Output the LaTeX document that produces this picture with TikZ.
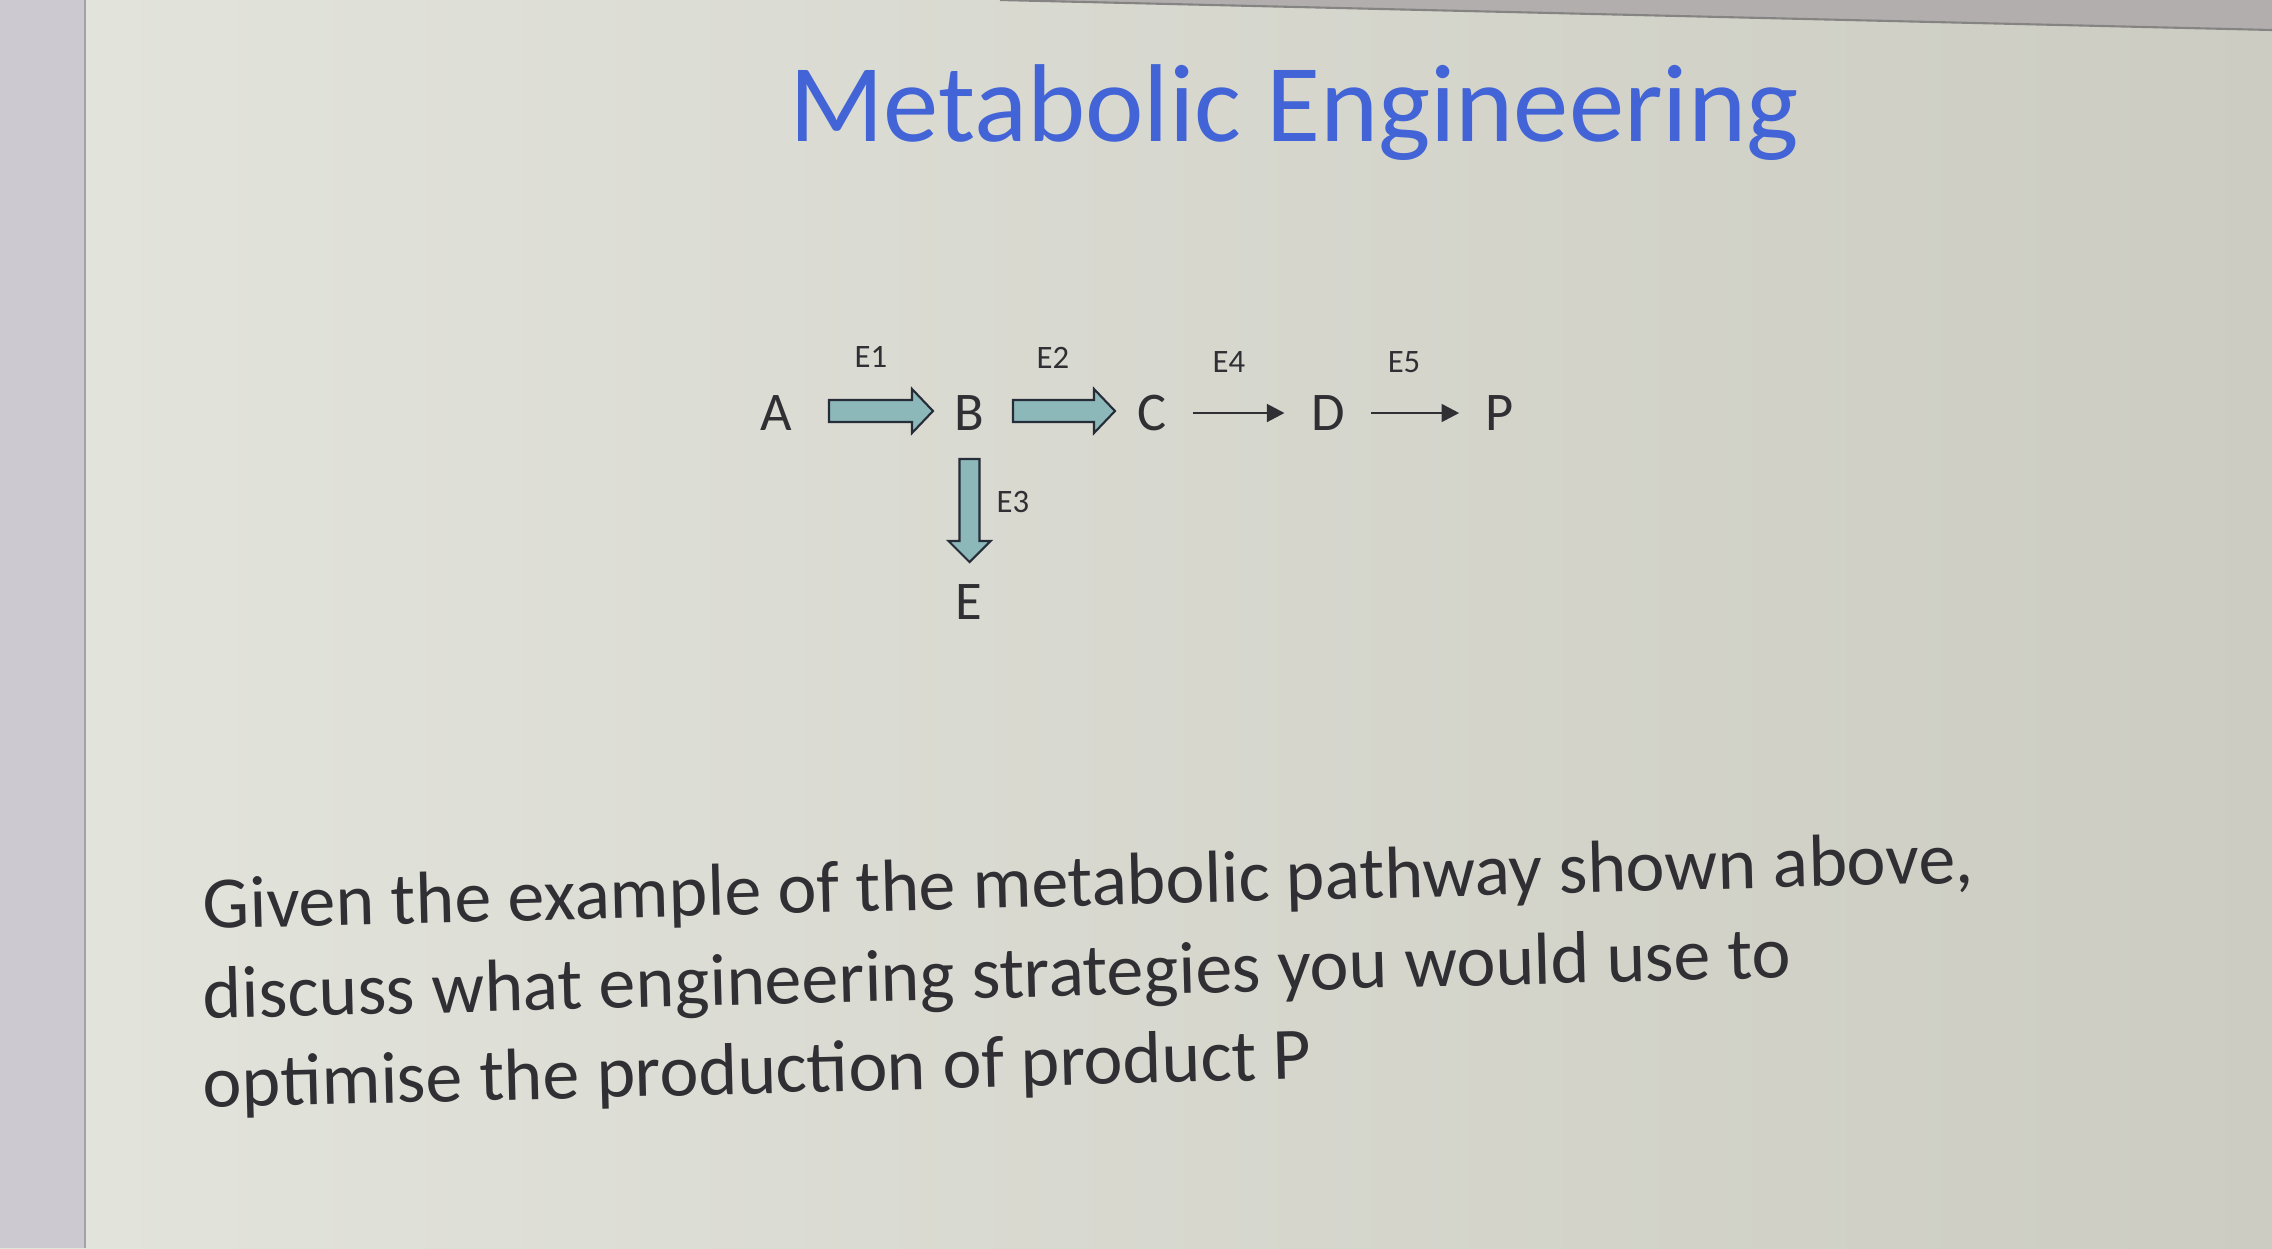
\documentclass[tikz,border=0pt]{standalone}
\usepackage{fontspec}
\setmainfont{Carlito}
\usetikzlibrary{calc,arrows.meta}
\definecolor{bgL}{RGB}{227,228,220}
\definecolor{bgR}{RGB}{204,204,194}
\definecolor{stripc}{RGB}{204,202,208}
\definecolor{bandc}{RGB}{178,174,174}
\definecolor{titleblue}{RGB}{66,100,214}
\definecolor{ink}{RGB}{48,48,52}
\definecolor{fatfill}{RGB}{140,184,186}
\definecolor{fatline}{RGB}{38,44,56}
\newcommand\fatH[2]{\draw[fat] ($(#1)+(0,-11)$) -- ($(#2)+(-21,-11)$) -- ($(#2)+(-21,-22)$) -- (#2) -- ($(#2)+(-21,22)$) -- ($(#2)+(-21,11)$) -- ($(#1)+(0,11)$) -- cycle;}
\newcommand\fatV[2]{\draw[fat] ($(#1)+(-10,0)$) -- ($(#2)+(-10,-21)$) -- ($(#2)+(-21,-21)$) -- (#2) -- ($(#2)+(21,-21)$) -- ($(#2)+(10,-21)$) -- ($(#1)+(10,0)$) -- cycle;}
\begin{document}
\begin{tikzpicture}[x=0.1mm,y=-0.1mm,
  chem/.style={inner sep=0pt, text=ink, font=\fontsize{15.5}{17}\selectfont},
  enz/.style={inner sep=0pt, text=ink, font=\fontsize{9.3}{11}\selectfont},
  fat/.style={draw=fatline, fill=fatfill, line width=0.6pt, line join=miter},
  thinarr/.style={draw=ink, line width=0.8pt, -{Triangle[length=5pt,width=5pt]}, shorten <=7.3pt, shorten >=7.4pt},
  body/.style={anchor=base west, inner sep=0pt, text=ink, rotate=1.5, font=\fontsize{21}{25}\selectfont}]
\path[use as bounding box] (0,0) rectangle (2272,1248);
% background
\fill[left color=bgL, right color=bgR] (0,0) rectangle (2272,1248);
\fill[stripc] (0,0) rectangle (85,1248);
\draw[stripc!80!black, line width=0.4pt] (85,0) -- (85,1248);
\fill[bandc] (1000,0) -- (2272,0) -- (2272,30) -- cycle;
\draw[bandc!75!black, line width=0.6pt] (1000,0) -- (2272,30);
% title
\node[anchor=base, inner sep=0pt, text=titleblue, font=\fontsize{31.5}{36}\selectfont] (title) at (1294,141) {Metabolic Engineering};
% pathway
\node[chem] (A) at (776,413) {A};
\node[chem] (B) at (969,413) {B};
\node[chem] (C) at (1152,413) {C};
\node[chem] (D) at (1328,413) {D};
\node[chem] (P) at (1500,413) {P};
\node[chem] (E) at (969,602) {E};
\node[enz] (e1) at (871,357) {E1};
\node[enz] (e2) at (1053,358) {E2};
\node[enz] (e4) at (1229,362) {E4};
\node[enz] (e5) at (1404,362) {E5};
\node[enz] (e3) at (1013,502) {E3};
\coordinate (a1s) at ($(A)+(53,-2)$);
\coordinate (a1e) at ($(B)+(-36,-2)$);
\coordinate (a2s) at ($(B)+(44,-2)$);
\coordinate (a2e) at ($(C)+(-37,-2)$);
\coordinate (a3s) at ($(B)+(0.5,46)$);
\coordinate (a3e) at ($(E)+(0.5,-40)$);
\fatH{a1s}{a1e}
\fatH{a2s}{a2e}
\fatV{a3s}{a3e}
\draw[thinarr] (C) -- (D);
\draw[thinarr] (D) -- (P);
% question
\node[body] (q1) at (203,929) {Given the example of the metabolic pathway shown above,};
\node[body] (q2) at (203,1019) {discuss what engineering strategies you would use to};
\node[body] (q3) at (203,1108) {optimise the production of product P};
\end{tikzpicture}
\end{document}
